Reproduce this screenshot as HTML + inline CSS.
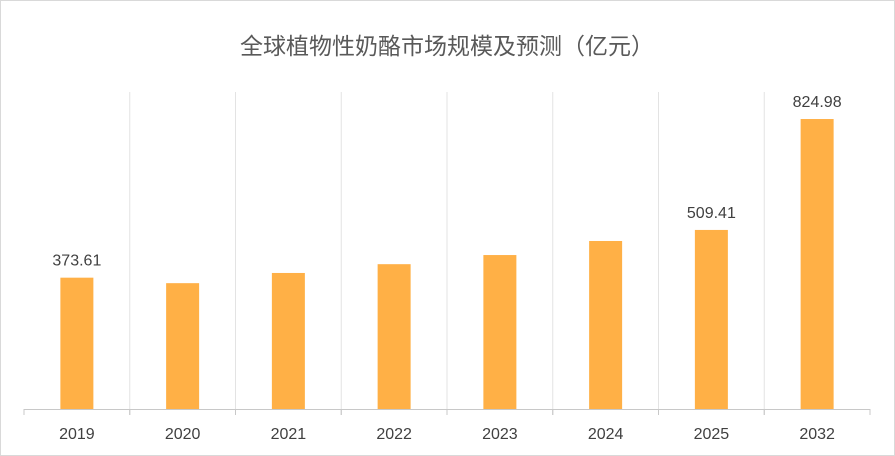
<!DOCTYPE html>
<html><head><meta charset="utf-8"><style>
html,body{margin:0;padding:0;background:#fff;}
svg{display:block;font-family:"Liberation Sans","Noto Sans CJK SC",sans-serif;}
</style></head><body>
<svg id="chart" width="895" height="456">
<rect x="0.5" y="0.5" width="894" height="455" fill="#fff" stroke="#d9d9d9"/>
<text x="447" y="54" text-anchor="middle" font-size="23" fill="#595959">全球植物性奶酪市场规模及预测（亿元）</text>
<g id="grid"></g><g id="bars"></g><g id="labels"></g><g id="xlabels"></g>
</svg>
<script>
const categories = ["2019","2020","2021","2022","2023","2024","2025","2032"];
const values = [373.61,358,387,412,438,478,509.41,824.98];
const shownLabels = ["373.61","","","","","","509.41","824.98"];
const ns="http://www.w3.org/2000/svg";
const plotLeft=24,plotRight=870,base=409;
const slot=(plotRight-plotLeft)/categories.length;
function xC(i){return plotLeft+slot*(i+0.5);}
function yS(v){return base-v*0.3515;}
const grid=document.getElementById('grid'),bars=document.getElementById('bars'),labels=document.getElementById('labels'),xl=document.getElementById('xlabels');
for(let i=1;i<categories.length;i++){
 const l=document.createElementNS(ns,'line');
 l.setAttribute('x1',plotLeft+slot*i);l.setAttribute('x2',plotLeft+slot*i);l.setAttribute('y1',92);l.setAttribute('y2',base);
 l.setAttribute('stroke','#e3e3e3');
 
 
 grid.appendChild(l);
}
const ax=document.createElementNS(ns,'line');
ax.setAttribute('x1',plotLeft);ax.setAttribute('x2',plotRight);ax.setAttribute('y1',base+0.5);ax.setAttribute('y2',base+0.5);ax.setAttribute('stroke','#c8c8c8');


grid.appendChild(ax);
for(let i=0;i<categories.length;i++){
 for(let k=0;k<2;k++){
  const t=document.createElementNS(ns,'line');const x=plotLeft+slot*(i+k);
  t.setAttribute('x1',x);t.setAttribute('x2',x);t.setAttribute('y1',base);t.setAttribute('y2',base+6);t.setAttribute('stroke','#c8c8c8');
  
  
  grid.appendChild(t);
 }
 const y=yS(values[i]);
 const r=document.createElementNS(ns,'rect');
 r.setAttribute('x',xC(i)-16.5);r.setAttribute('width',33);r.setAttribute('y',y);r.setAttribute('height',base-y);r.setAttribute('fill','#ffb046');
 
 
 bars.appendChild(r);
 if(shownLabels[i]){
  const t=document.createElementNS(ns,'text');
  t.setAttribute('x',xC(i));t.setAttribute('y',y-12);t.setAttribute('text-anchor','middle');t.setAttribute('font-size','16');t.setAttribute('fill','#404040');
  t.textContent=shownLabels[i];
  
  
  labels.appendChild(t);
 }
 const c=document.createElementNS(ns,'text');
 c.setAttribute('x',xC(i));c.setAttribute('y',439);c.setAttribute('text-anchor','middle');c.setAttribute('font-size','16');c.setAttribute('fill','#404040');
 c.textContent=categories[i];
 
 
 xl.appendChild(c);
}
</script>
</body></html>
